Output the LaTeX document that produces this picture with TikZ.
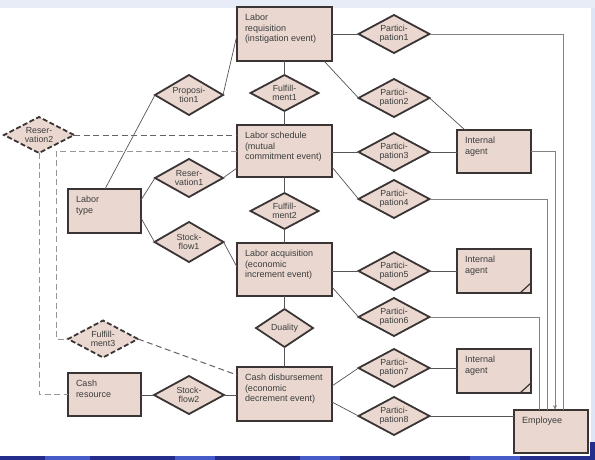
\documentclass[tikz,border=0pt]{standalone}
\usepackage{fontspec}
\setmainfont{Liberation Sans}
\usetikzlibrary{shapes.geometric,calc,arrows.meta}
\definecolor{boxfill}{RGB}{234,216,208}
\definecolor{bordc}{RGB}{58,52,52}
\definecolor{txtc}{RGB}{60,60,60}
\definecolor{linec}{RGB}{85,85,85}
\definecolor{farc}{RGB}{130,130,130}
\definecolor{dshc}{RGB}{100,100,100}
\definecolor{dshl}{RGB}{150,150,150}
\definecolor{bglav}{RGB}{232,236,247}
\definecolor{navyc}{RGB}{36,44,140}
\definecolor{bluec}{RGB}{70,90,200}
\definecolor{sidec}{RGB}{222,229,246}
\newcommand{\bxt}[3]{\parbox[c][#2pt][t]{#1pt}{\fontsize{9}{10.5}\selectfont\raggedright\leftskip=8pt\vspace*{6.6pt}\strut#3}}
\begin{document}
\begin{tikzpicture}[x=1pt,y=-1pt,
  box/.style={draw=bordc, line width=1.8pt, fill=boxfill, inner sep=0pt, outer sep=0pt, anchor=north west, text=txtc},
  dia/.style={diamond, draw=bordc, line width=1.8pt, fill=boxfill, inner sep=0pt, outer sep=0pt, aspect=2, minimum width=71pt, minimum height=38pt, align=center, text=txtc, font=\fontsize{8.8}{9.4}\selectfont},
  ddia/.style={dia, dash pattern=on 5pt off 2.5pt},
  conn/.style={draw=linec, line width=0.7pt},
  farline/.style={draw=farc, line width=0.9pt},
  dsh/.style={draw=dshc, line width=1pt, dash pattern=on 6pt off 3.5pt},
  dshlight/.style={draw=dshl, line width=1pt, dash pattern=on 6pt off 3.5pt},
]
% background frame
\fill[bglav] (0,0) rectangle (595,460);
\fill[white] (0,8) rectangle (591,456);
\fill[sidec] (591,8) rectangle (595,442);
\fill[navyc] (0,456) rectangle (595,460);
\fill[navyc] (590,442) rectangle (595,460);
\fill[bluec] (45,456) rectangle (90,460);
\fill[bluec] (175,456) rectangle (215,460);
\fill[bluec] (300,456) rectangle (340,460);
\fill[bluec] (470,456) rectangle (520,460);

% boxes
\node[box] (req) at (237,7) {\bxt{95}{54}{Labor\\requisition\\(instigation event)}};
\node[box] (sched) at (237,125) {\bxt{95}{52}{Labor schedule\\(mutual\\commitment event)}};
\node[box] (acq) at (237,243) {\bxt{95}{53}{Labor acquisition\\(economic\\increment event)}};
\node[box] (cash) at (237,367) {\bxt{95}{54}{Cash disbursement\\(economic\\decrement event)}};
\node[box] (ltype) at (68,189) {\bxt{73}{44}{Labor\\type}};
\node[box] (cres) at (68,373) {\bxt{73}{43}{Cash\\resource}};
\node[box] (ia1) at (457,130) {\bxt{74}{43}{Internal\\agent}};
\node[box] (ia2) at (457,249) {\bxt{74}{44}{Internal\\agent}};
\node[box] (ia3) at (457,349) {\bxt{74}{44}{Internal\\agent}};
\node[box] (emp) at (514,410) {\bxt{74}{43}{Employee}};

% diamonds
\node[dia] (p1) at (394,34) {Partici-\\pation1};
\node[dia] (p2) at (394,98) {Partici-\\pation2};
\node[dia] (p3) at (394,152) {Partici-\\pation3};
\node[dia] (p4) at (394,199) {Partici-\\pation4};
\node[dia] (p5) at (394,271) {Partici-\\pation5};
\node[dia] (p6) at (394,317) {Partici-\\pation6};
\node[dia] (p7) at (394,368) {Partici-\\pation7};
\node[dia] (p8) at (394,416) {Partici-\\pation8};
\node[dia, minimum width=68pt, minimum height=36pt] (f1) at (284.5,93) {Fulfill-\\ment1};
\node[dia, minimum width=68pt, minimum height=36pt] (f2) at (284.5,211) {Fulfill-\\ment2};
\node[dia, minimum width=57pt, minimum height=38pt] (dual) at (284.5,328) {Duality};
\node[dia, minimum width=68pt, minimum height=40pt] (prop1) at (189,95) {Proposi-\\tion1};
\node[dia, minimum width=68pt, minimum height=38pt] (res1) at (189,178) {Reser-\\vation1};
\node[dia, minimum width=69pt, minimum height=40pt] (sf1) at (189,242) {Stock-\\flow1};
\node[dia, minimum width=70pt, minimum height=38pt] (sf2) at (189,395) {Stock-\\flow2};
\node[ddia, minimum width=70pt, minimum height=36pt] (res2) at (39,135) {Reser-\\vation2};
\node[ddia, minimum width=70pt, minimum height=37pt] (f3) at (103,339) {Fulfill-\\ment3};

% corner marks
\draw[bordc, line width=1.2pt] ($(ia2.south east)+(-11,0)$) -- ($(ia2.south east)+(0,-10)$);
\draw[bordc, line width=1.2pt] ($(ia3.south east)+(-11,0)$) -- ($(ia3.south east)+(0,-10)$);

% connectors
\begin{scope}[on background layer/.style={}]
\draw[conn] (p1.west -| req.east) -- (p1.west);
\draw[conn] ($(req.south east)+(-8,0)$) -- (p2.west);
\draw[conn] (p2.east) -- ($(ia1.north west)+(8,0)$);
\draw[conn] (req.south) -- (f1.north);
\draw[conn] (f1.south) -- (sched.north);
\draw[conn] (prop1.east) -- ($(req.north west)+(0,28)$);
\draw[conn] (prop1.west) -- ($(ltype.north west)+(37,0)$);
\draw[conn] (res1.west) -- ($(ltype.north east)+(0,11)$);
\draw[conn] (res1.east) -- ($(sched.north west)+(0,43)$);
\draw[conn] ($(ltype.north east)+(0,29)$) -- (sf1.west);
\draw[conn] (sf1.east) -- ($(acq.north west)+(0,24)$);
\draw[conn] (sched.south) -- (f2.north);
\draw[conn] (f2.south) -- (acq.north);
\draw[conn] (p3.west -| sched.east) -- (p3.west);
\draw[conn] (p3.east) -- (p3.east -| ia1.west);
\draw[conn] ($(sched.north east)+(0,42)$) -- (p4.west);
\draw[conn] (p5.west -| acq.east) -- (p5.west);
\draw[conn] (p5.east) -- (p5.east -| ia2.west);
\draw[conn] ($(acq.north east)+(0,44)$) -- (p6.west);
\draw[conn] (acq.south) -- (dual.north);
\draw[conn] (dual.south) -- (cash.north);
\draw[conn] ($(cash.north east)+(0,19)$) -- (p7.west);
\draw[conn] (p7.east) -- (p7.east -| ia3.west);
\draw[conn] ($(cash.north east)+(0,35)$) -- (p8.west);
\draw[conn] (p8.east) -- (p8.east -| emp.west);
\draw[conn] (sf2.west -| cres.east) -- (sf2.west);
\draw[conn] (sf2.east) -- (sf2.east -| cash.west);
\end{scope}

% long lines to Employee
\draw[farline] (p1.east) -| ($(emp.north east)+(-25,0)$);
\draw[farline, -{Stealth[length=5pt,width=4pt]}] (ia1.east) -| ($(emp.north east)+(-33,0)$);
\draw[farline] (p4.east) -| ($(emp.north east)+(-41,0)$);
\draw[farline] (p6.east) -| ($(emp.north east)+(-49,0)$);

% dashed lines
\draw[dsh] (res2.east) -- (res2.east -| sched.west);
\draw[dshlight] (res2.south) |- (cres.west);
\draw[dshlight] (sched.west) -| ($(f3.west)+(-12,0)$) -- (f3.west);
\draw[dsh] (f3.east) -- ($(cash.north west)+(0,8)$);
\end{tikzpicture}
\end{document}
